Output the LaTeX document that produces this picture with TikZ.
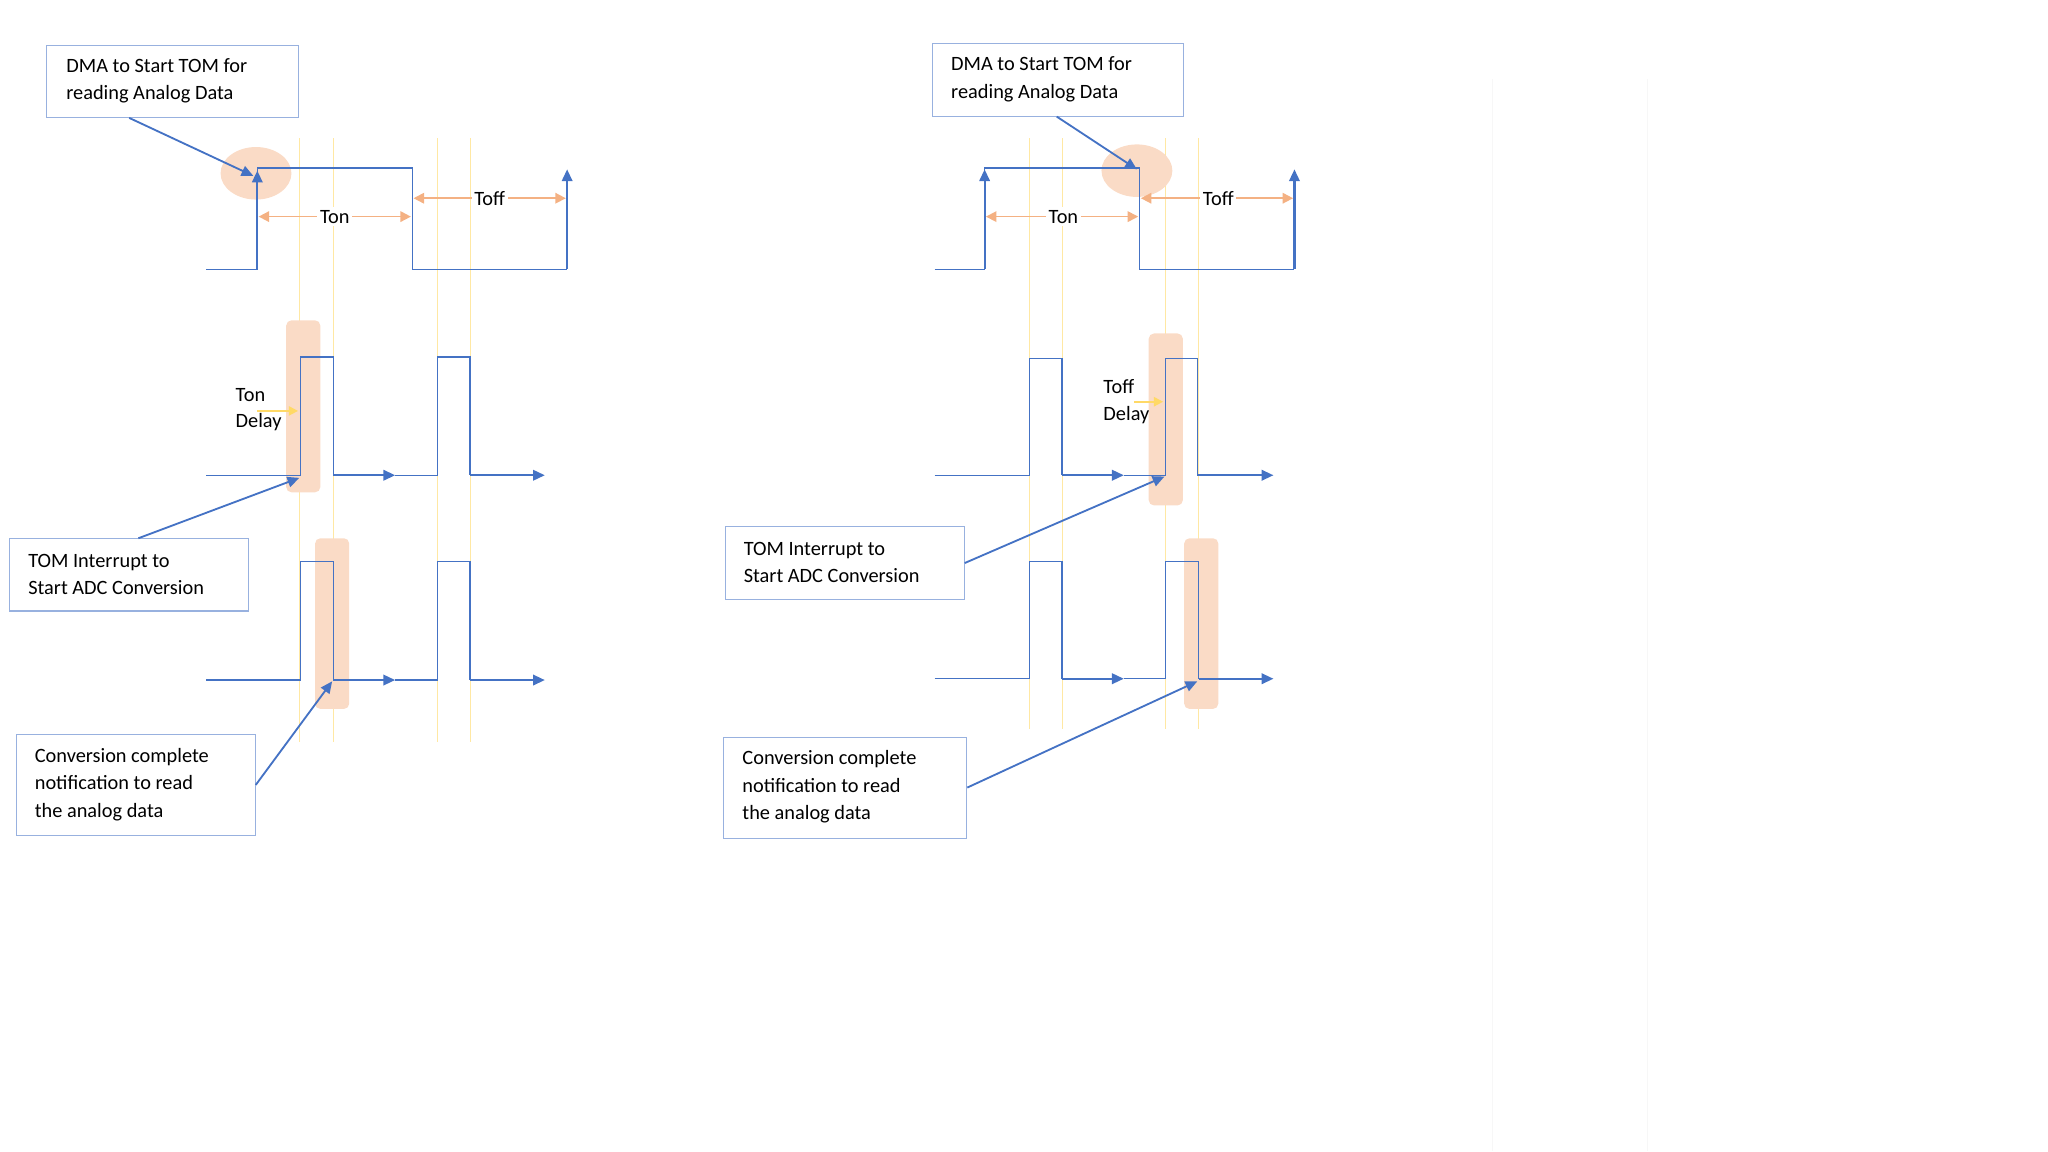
\documentclass[tikz,border=0pt]{standalone}
\usepackage{fontspec}
\setmainfont{Carlito}
\usetikzlibrary{arrows.meta}
\definecolor{sig}{HTML}{4472C4}
\definecolor{peach}{HTML}{F8CBAD}
\definecolor{peachd}{HTML}{F4B183}
\definecolor{ylw}{HTML}{FFD966}
\tikzset{
  x=1pt,y=-1pt,
  note/.style={draw=sig!55,line width=0.8pt,inner sep=0pt,align=left,font=\fontsize{15.5}{21}\selectfont,anchor=north west},
  wave/.style={sig,line width=0.9pt},
  thick wave/.style={sig,line width=1.6pt,-{Triangle[length=9pt,width=8pt]}},
  callout/.style={sig,line width=1.4pt,-{Triangle[length=9pt,width=8pt]}},
  guide/.style={ylw!60,line width=0.6pt},
  span/.style={peachd,line width=1.3pt,{Triangle[length=8pt,width=8pt]}-{Triangle[length=8pt,width=8pt]}},
  hl/.style={fill=peach!70,draw=none,rounded corners=4pt},
  lbl/.style={font=\fontsize{15.5}{19}\selectfont,fill=white,inner sep=2pt}
}
\begin{document}
\begin{tikzpicture}
\useasboundingbox (0,0) rectangle (1560,877.5);
% ================= LEFT =================
\foreach \x in {228,254,333,358} \draw[guide] (\x,105) -- (\x,565);
\fill[peach!70] (195,132) ellipse (27 and 20);
\fill[hl] (218,244) rectangle (244,375);
\fill[hl] (240,410) rectangle (266,540);
% top wave
\draw[wave] (157,205) -- (196,205) -- (196,128) -- (314,128) -- (314,205) -- (432,205);
\draw[thick wave] (196,205) -- (196,130);
\draw[thick wave] (432,205) -- (432,129);
\draw[span] (197,165) -- (313,165);
\node[lbl] (tonL) at (255,165) {Ton};
\draw[span] (315,151) -- (431,151);
\node[lbl] (toffL) at (373,151) {Toff};
% middle wave
\draw[wave] (157,362) -- (229,362) -- (229,272) -- (254,272) -- (254,362);
\draw[thick wave] (254,362) -- (301,362);
\draw[wave] (301,362) -- (333,362) -- (333,272) -- (358,272) -- (358,362);
\draw[thick wave] (358,362) -- (415,362);
\node[font=\fontsize{15.5}{20}\selectfont,align=left] (tdL) at (197,312) {Ton\\Delay};
\draw[ylw,line width=1.3pt,-{Triangle[length=7pt,width=7pt]}] (196,313) -- (227,313);
% bottom wave
\draw[wave] (157,518) -- (229,518) -- (229,428) -- (254,428) -- (254,518);
\draw[thick wave] (254,518) -- (301,518);
\draw[wave] (301,518) -- (333,518) -- (333,428) -- (358,428) -- (358,518);
\draw[thick wave] (358,518) -- (415,518);
% boxes
\node[note,minimum width=192,minimum height=55] (dmaL) at (35,34) {};
\node[font=\fontsize{15.5}{21}\selectfont,align=left,anchor=west] at (47,61.5) {DMA to Start TOM for\\reading Analog Data};
\node[note,minimum width=182,minimum height=55] (tomL) at (7,410) {};
\node[font=\fontsize{15.5}{21}\selectfont,align=left,anchor=west] at (18,437.5) {TOM Interrupt to\\Start ADC Conversion};
\node[note,minimum width=182,minimum height=77] (convL) at (12,559) {};
\node[font=\fontsize{15.5}{21}\selectfont,align=left,anchor=west] at (23,597.5) {Conversion complete\\notification to read\\the analog data};
\coordinate (dmaLt) at (193,134);
\coordinate (tomLt) at (228,364);
\coordinate (convLt) at (253,519);
\draw[callout] ([xshift=-33]dmaL.south) -- (dmaLt);
\draw[callout] ([xshift=7]tomL.north) -- (tomLt);
\draw[callout] (convL.east) -- (convLt);
% ================= RIGHT =================
\foreach \x in {784,809,888,913} \draw[guide] (\x,105) -- (\x,555);
\fill[peach!70] (866,130) ellipse (27 and 20);
\fill[hl] (875,254) rectangle (901,385);
\fill[hl] (902,410) rectangle (928,540);
% top wave
\draw[wave] (712,205) -- (750,205) -- (750,128) -- (868,128) -- (868,205) -- (986,205);
\draw[thick wave] (750,205) -- (750,129);
\draw[thick wave] (986,205) -- (986,129);
\draw[span] (751,165) -- (867,165);
\node[lbl] (tonR) at (810,165) {Ton};
\draw[span] (869,151) -- (985,151);
\node[lbl] (toffR) at (928,151) {Toff};
% middle wave
\draw[wave] (712,362) -- (784,362) -- (784,273) -- (809,273) -- (809,362);
\draw[thick wave] (809,362) -- (856,362);
\draw[wave] (856,362) -- (888,362) -- (888,273) -- (912,273) -- (912,362);
\draw[thick wave] (912,362) -- (970,362);
\node[font=\fontsize{15.5}{20}\selectfont,align=left] (tdR) at (858,306) {Toff\\Delay};
\draw[ylw,line width=1.3pt,-{Triangle[length=7pt,width=7pt]}] (864,306) -- (886,306);
% bottom wave
\draw[wave] (712,517) -- (784,517) -- (784,428) -- (809,428) -- (809,517);
\draw[thick wave] (809,517) -- (856,517);
\draw[wave] (856,517) -- (888,517) -- (888,428) -- (913,428) -- (913,517);
\draw[thick wave] (913,517) -- (970,517);
% boxes
\node[note,minimum width=191,minimum height=55] (dmaR) at (710,33) {};
\node[font=\fontsize{15.5}{21}\selectfont,align=left,anchor=west] at (721,60.5) {DMA to Start TOM for\\reading Analog Data};
\node[note,minimum width=182,minimum height=55] (tomR) at (552,401) {};
\node[font=\fontsize{15.5}{21}\selectfont,align=left,anchor=west] at (563,428.5) {TOM Interrupt to\\Start ADC Conversion};
\node[note,minimum width=185,minimum height=77] (convR) at (551,561) {};
\node[font=\fontsize{15.5}{21}\selectfont,align=left,anchor=west] at (562,599.5) {Conversion complete\\notification to read\\the analog data};
\coordinate (dmaRt) at (866,129);
\coordinate (tomRt) at (887,363);
\coordinate (convRt) at (912,519);
\draw[callout] ([xshift=-1]dmaR.south) -- (dmaRt);
\draw[callout] (tomR.east) -- (tomRt);
\draw[callout] (convR.east) -- (convRt);
% faint guides far right
\draw[black!3,line width=0.5pt] (1137,60) -- (1137,877);
\draw[black!3,line width=0.5pt] (1255,60) -- (1255,877);
\end{tikzpicture}
\end{document}
